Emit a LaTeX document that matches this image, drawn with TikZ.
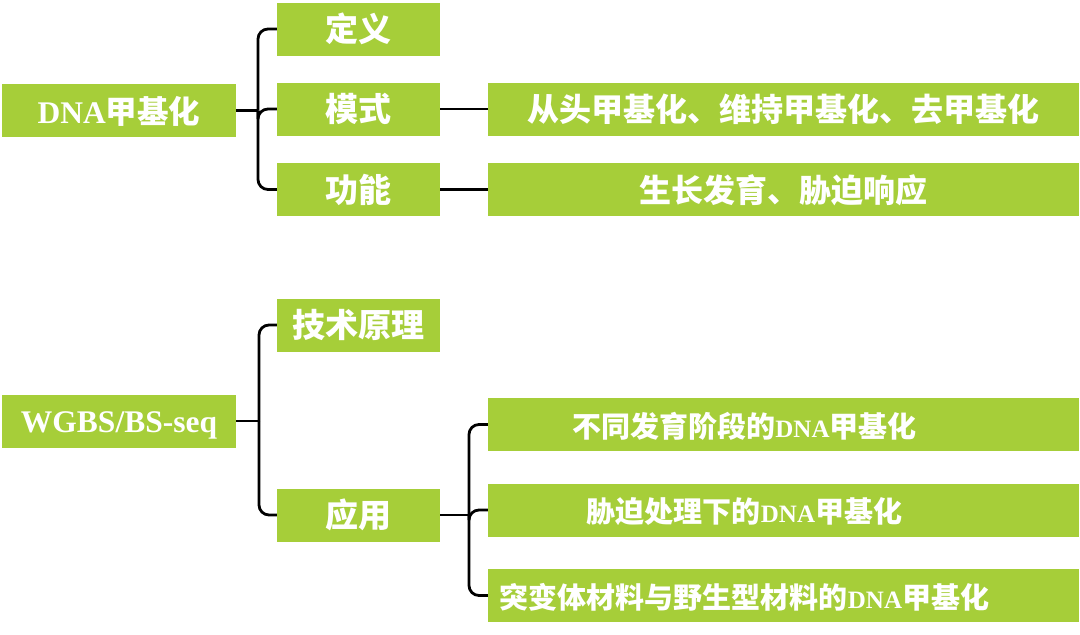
\documentclass[tikz,border=0pt]{standalone}
\usepackage{fontspec}
\setmainfont{Liberation Serif}
\newfontfamily\cjk{Noto Sans CJK SC}
\usetikzlibrary{positioning}
\definecolor{leafgreen}{RGB}{166,206,57}
\newcommand{\dna}{{\rmfamily\fontsize{25}{30}\selectfont DNA}}

\begin{document}
\begin{tikzpicture}[x=1pt,y=-1pt,
    box/.style={fill=leafgreen,text=white,inner sep=0pt,minimum height=53pt,
      font=\cjk\bfseries\fontsize{31.5}{37}\selectfont,text height=25pt,text depth=0pt},
    root/.style={box,minimum width=234pt},
    mid/.style={box,minimum width=163pt,font=\cjk\bfseries\fontsize{33}{38}\selectfont},
    leaf/.style={box,minimum width=591pt,font=\cjk\bfseries\fontsize{32}{38}\selectfont},
    subleaf/.style={leaf,font=\cjk\bfseries\fontsize{29}{34}\selectfont},
    link/.style={draw=black,line width=2.8pt,rounded corners=10pt}
    ]
    \useasboundingbox (0,0) rectangle (1080,635);

    % first tree
    \node (dna) [root] at (119,110.5) {{\rmfamily DNA}甲基化};
    \node (def) [mid] at (358.5,29) {定义};
    \node (mode) [mid] at (358.5,109) {模式};
    \node (func) [mid] at (358.5,189.5) {功能};
    \node (denovo) [leaf] at (783.5,109) {从头甲基化、维持甲基化、去甲基化};
    \node (growth) [leaf] at (783.5,189.5) {生长发育、胁迫响应};

    \draw[link] (dna.east) -- (258,110.5) coordinate (b1);
    \foreach \c in {def,mode,func}
      \draw[link] (b1) |- (\c.west);
    \draw[link] (mode) -- (denovo);
    \draw[link] (func) -- (growth);

    % second tree
    \node (wgbs) [root,text height=22.5pt] at (119,421) {{\rmfamily WGBS/BS-seq}};
    \node (tech) [mid] at (358.5,325) {技术原理};
    \node (app) [mid] at (358.5,515) {应用};
    \node (stage) [subleaf] at (783.5,424.5) {不同发育阶段的\dna 甲基化\hspace*{78pt}};
    \node (stress) [subleaf] at (783.5,510) {胁迫处理下的\dna 甲基化\hspace*{78pt}};
    \node (mutant) [subleaf] at (783.5,595.5) {突变体材料与野生型材料的\dna 甲基化\hspace*{78pt}};

    \draw[link] (wgbs.east) -- (259,421) coordinate (b2);
    \foreach \c in {tech,app}
      \draw[link] (b2) |- (\c.west);
    \draw[link] (app.east) -- (469,515) coordinate (b3);
    \foreach \c in {stage,stress,mutant}
      \draw[link] (b3) |- (\c.west);

  \end{tikzpicture}
\end{document}
